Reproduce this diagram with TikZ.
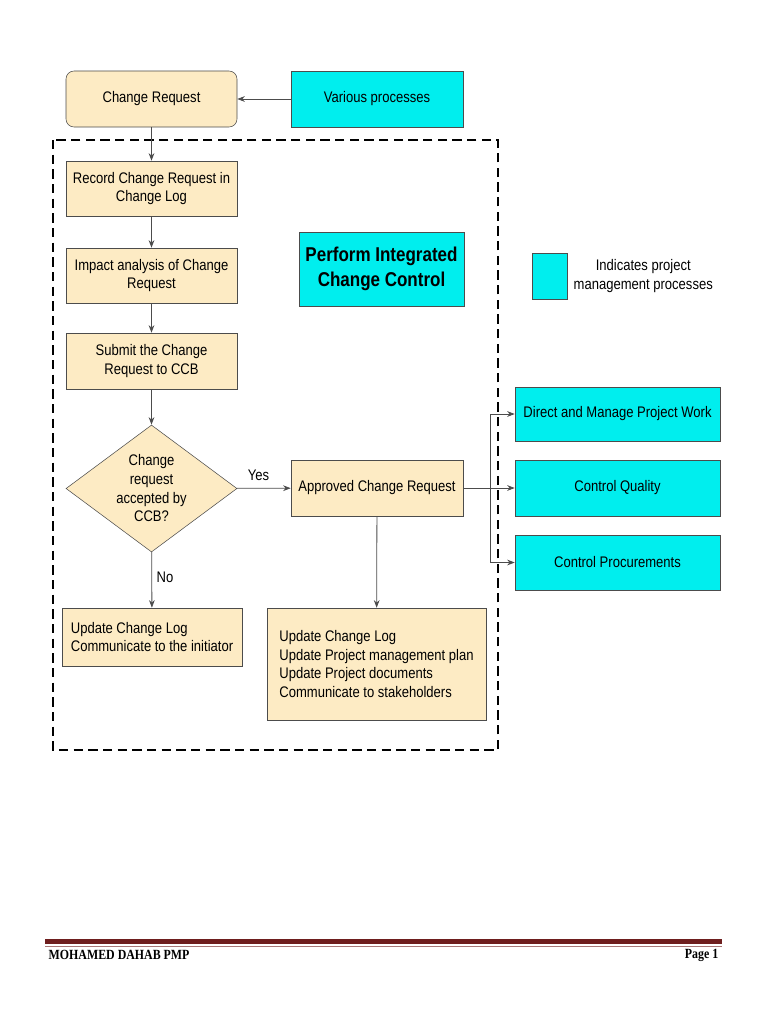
\documentclass[tikz,border=0pt]{standalone}
\usepackage{fontspec}
\setmainfont{Liberation Sans}[FakeStretch=0.85]
\newfontfamily\footfont{Liberation Serif}[FakeStretch=0.85]
\usetikzlibrary{shapes.geometric,arrows.meta}
\definecolor{tan}{RGB}{253,235,196}
\definecolor{cyanbox}{RGB}{0,238,238}
\definecolor{darkred}{RGB}{110,30,30}
\begin{document}
\begin{tikzpicture}[x=0.75pt,y=-0.75pt,>=Stealth,
  box/.style={draw=black!70,fill=tan,align=center,font=\fontsize{11.5}{14}\selectfont,inner sep=3pt},
  pm/.style={draw=black!70,fill=cyanbox,align=center,font=\fontsize{11.5}{14}\selectfont,inner sep=3pt},
  link/.style={->,draw=black!70,semithick}]
\useasboundingbox (0,0) rectangle (768,1024);
% dashed frame
\draw[very thick,dash pattern=on 7pt off 4pt] (53,140) rectangle (498,750);
\node[box,rounded corners=6pt,minimum width=171*0.75pt,minimum height=56*0.75pt] (cr) at (151.5,99) {Change Request};
\node[pm,minimum width=172*0.75pt,minimum height=56*0.75pt] (vp) at (377,99) {Various processes};
\node[box,minimum width=171*0.75pt,minimum height=55*0.75pt] (rec) at (151.5,188.5) {Record Change Request in\\Change Log};
\node[box,minimum width=171*0.75pt,minimum height=55*0.75pt] (imp) at (151.5,275.5) {Impact analysis of Change\\Request};
\node[box,minimum width=171*0.75pt,minimum height=56*0.75pt] (sub) at (151.5,361) {Submit the Change\\Request to CCB};
\node[box,diamond,aspect=1.35,minimum width=171*0.75pt,minimum height=127*0.75pt,inner sep=0pt] (dec) at (151.5,488.5) {Change\\request\\accepted by\\CCB?};
\node[box,minimum width=172*0.75pt,minimum height=56*0.75pt] (app) at (377,488) {Approved Change Request};
\node[box,align=left,minimum width=180*0.75pt,minimum height=58*0.75pt,inner xsep=3pt] (ul) at (152,637) {Update Change Log\\Communicate to the initiator};
\node[box,align=left,minimum width=219*0.75pt,minimum height=112*0.75pt,inner xsep=4pt] (ur) at (376.5,664) {Update Change Log\\Update Project management plan\\Update Project documents\\Communicate to stakeholders};
\node[pm,font=\fontsize{15}{18.5}\selectfont\bfseries,minimum width=165*0.75pt,minimum height=74*0.75pt] (pic) at (381.5,269) {Perform Integrated\\Change Control};
\node[pm,minimum width=35*0.75pt,minimum height=46*0.75pt] (leg) at (549.5,276) {};
\node[anchor=west,align=center,font=\fontsize{11.5}{14}\selectfont] (legt) at (569,276) {Indicates project\\management processes};
\node[pm,minimum width=205*0.75pt,minimum height=54*0.75pt] (dm) at (617.5,414) {Direct and Manage Project Work};
\node[pm,minimum width=205*0.75pt,minimum height=56*0.75pt] (cq) at (617.5,488) {Control Quality};
\node[pm,minimum width=205*0.75pt,minimum height=55*0.75pt] (cp) at (617.5,562.5) {Control Procurements};
% connectors
\draw[link] (vp) -- (cr);
\draw[link] (cr) -- (rec);
\draw[link] (rec) -- (imp);
\draw[link] (imp) -- (sub);
\draw[link] (sub) -- (dec);
\draw[link] (dec) -- node[above,pos=0.4,yshift=2pt,font=\fontsize{11.5}{14}\selectfont] (yes) {Yes} (app);
\draw[link] (dec) -- node[right,pos=0.45,font=\fontsize{11.5}{14}\selectfont] (no) {No} (ul);
\draw[link] (app) -- (ur);
\coordinate (br) at (490,488);
\draw[link] (app) -- (cq);
\draw[link] (br) |- (dm);
\draw[link] (br) |- (cp);
% footer
\fill[darkred] (45,939) rectangle (722,944);
\draw[darkred!60,line width=0.6pt] (45,946.5) -- (722,946.5);
\node[anchor=west,font=\footfont\fontsize{10.5}{12}\selectfont\bfseries] (ft) at (44,955) {MOHAMED DAHAB PMP};
\node[anchor=east,font=\footfont\fontsize{10.5}{12}\selectfont\bfseries] (pg) at (723,955) {Page 1};
\end{tikzpicture}
\end{document}
